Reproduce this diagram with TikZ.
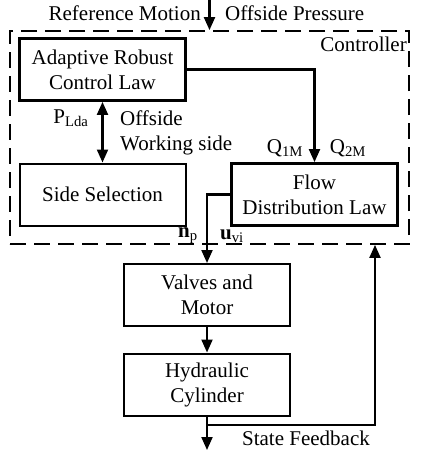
\documentclass[tikz,border=0pt]{standalone}
\usepackage{fontspec}
\setmainfont{Liberation Serif}
\usepackage{tikz}
\usetikzlibrary{arrows.meta}

\begin{document}
\begin{tikzpicture}[x=1pt,y=-1pt,font=\fontsize{21}{25}\selectfont]

\tikzstyle{blk}=[draw,line width=2pt,minimum width=166pt,minimum height=62pt,inner sep=0pt,align=center]
\tikzstyle{blkthick}=[blk,line width=2.8pt]
\tikzstyle{sig}=[line width=2.1pt,-{Triangle[length=13pt,width=11pt]}]
\tikzstyle{sigboth}=[line width=2.1pt,{Triangle[length=13pt,width=11pt]}-{Triangle[length=13pt,width=11pt]}]
\tikzstyle{lbl}=[inner sep=0pt]

\useasboundingbox (0,0) rectangle (421,450);

%% Controller frame
\node [draw,line width=1.8pt,dash pattern=on 16pt off 8pt,minimum width=399pt,minimum height=213pt] (ctrl) at (209.5,137.5) {};
\node [lbl,anchor=east] (ctrllbl) at (407,44) {Controller};

%% Blocks
\node [blkthick] (arc) at (102.5,69.5) {Adaptive Robust\\Control Law};
\node [blk] (side) at (102.5,194.5) {Side Selection};
\node [blkthick] (flow) at (314.5,194.5) {Flow\\Distribution Law};
\node [blk] (valves) at (207,295) {Valves and\\Motor};
\node [blk] (hyd) at (207,384.5) {Hydraulic\\Cylinder};

%% Free ends
\coordinate (in) at (209.5,0);
\coordinate (out) at (207,450);
\coordinate (fb) at (375,425);

%% Signals
\draw [sig] (in) -- (ctrl.north);
\draw [sig] (arc.east) -| (flow.north);
\draw [sigboth] (arc.south) -- (side.north);
\draw [sig] (flow.west) -| (valves.north);
\draw [sig] (valves) -- (hyd);
\draw [sig] (hyd.south) -- (out);
\draw [sig] (hyd.south |- fb) -- (fb) -- (fb |- ctrl.south);

%% Labels
\node [lbl,anchor=east] (refmot) at (201,13) {Reference Motion};
\node [lbl,anchor=west] (offpr) at (225,13) {Offside Pressure};
\node [lbl] (plda) at (71,118) {P\textsubscript{Lda}};
\node [lbl,anchor=west] (offside) at (120,118) {Offside};
\node [lbl,anchor=west] (work) at (120,145) {Working side};
\node [lbl] (q1) at (285,148) {Q\textsubscript{1M}};
\node [lbl] (q2) at (348,148) {Q\textsubscript{2M}};
\node [lbl] (np) at (188,236) {\textbf{n}\textsubscript{p}};
\node [lbl] (uvi) at (232,236) {\textbf{u}\textsubscript{vi}};
\node [lbl] (state) at (306,438) {State Feedback};

\end{tikzpicture}
\end{document}
